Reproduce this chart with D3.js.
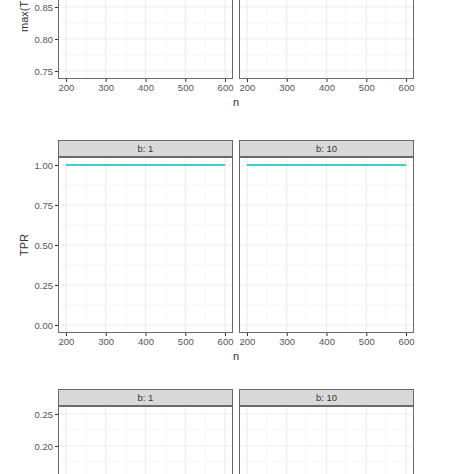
<!DOCTYPE html>
<html>
<head>
<meta charset="utf-8">
<script src="https://cdn.jsdelivr.net/npm/d3@7"></script>
<style>
  html, body { margin: 0; padding: 0; background: #fff; }
  svg { display: block; }
  text { font-family: "Liberation Sans", Arial, sans-serif; }
</style>
</head>
<body>
<svg id="chart" width="474" height="474"></svg>
<script>
// ---- data ----
const nValues = [200, 300, 400, 500, 600];
const bLevels = ["1", "10"];
const xTicks = [200, 300, 400, 500, 600];

// row 1: max(...) panel (lines lie above the visible area)
const maxB1 = [1.0, 1.0, 1.0, 1.0, 1.0];
const maxB10 = [1.0, 1.0, 1.0, 1.0, 1.0];
const maxTicks = [0.75, 0.80, 0.85, 0.90, 0.95, 1.00];

// row 2: TPR
const tprB1 = [1.0, 1.0, 1.0, 1.0, 1.0];
const tprB10 = [1.0, 1.0, 1.0, 1.0, 1.0];
const tprTicks = [0.00, 0.25, 0.50, 0.75, 1.00];

// row 3: FPR (lines lie below the visible area)
const fprB1 = [0.0, 0.0, 0.0, 0.0, 0.0];
const fprB10 = [0.0, 0.0, 0.0, 0.0, 0.0];
const fprTicks = [0.00, 0.05, 0.10, 0.15, 0.20, 0.25];

const rows = [
  { title: "max(TPR - FPR)", limits: [0.75, 1.0], ticks: maxTicks, series: [maxB1, maxB10], panelTop: -97 },
  { title: "TPR", limits: [0, 1], ticks: tprTicks, series: [tprB1, tprB10], panelTop: 157 },
  { title: "FPR", limits: [0, 0.25], ticks: fprTicks, series: [fprB1, fprB10], panelTop: 406 }
];

// ---- layout ----
const W = 474, H = 474;
const svg = d3.select("#chart");
const panelH = 176;
const stripH = 17;
const panelsX = [[58, 233], [239, 414]];
const lineColor = "#00BFC4";
const borderColor = "#6a6a6a";
const gridMajor = "#EBEBEB";
const tickColor = "#555555";
const fontStack = "Liberation Sans, Arial, sans-serif";
const inView = v => v > 4 && v < H - 4;

function expand(lim) {
  const d = (lim[1] - lim[0]) * 0.05;
  return [lim[0] - d, lim[1] + d];
}

rows.forEach(row => {
  const top = row.panelTop;
  const bottom = top + panelH;
  const y = d3.scaleLinear().domain(expand(row.limits)).range([bottom, top]);
  const yMinor = [];
  for (let i = 0; i < row.ticks.length - 1; i++) yMinor.push((row.ticks[i] + row.ticks[i + 1]) / 2);

  bLevels.forEach((b, pi) => {
    const [x0, x1] = panelsX[pi];
    const x = d3.scaleLinear().domain(expand([200, 600])).range([x0, x1]);
    const xMinor = [];
    for (let i = 0; i < xTicks.length - 1; i++) xMinor.push((xTicks[i] + xTicks[i + 1]) / 2);

    const g = svg.append("g");
    g.append("rect").attr("x", x0).attr("y", top).attr("width", x1 - x0).attr("height", panelH).attr("fill", "#fff");

    // grid
    g.selectAll(".ymin").data(yMinor).enter().append("line")
      .attr("x1", x0).attr("x2", x1).attr("y1", d => y(d)).attr("y2", d => y(d))
      .attr("stroke", "#F3F3F3").attr("stroke-width", 0.7);
    g.selectAll(".xmin").data(xMinor).enter().append("line")
      .attr("y1", top).attr("y2", bottom).attr("x1", d => x(d)).attr("x2", d => x(d))
      .attr("stroke", "#F3F3F3").attr("stroke-width", 0.7);
    g.selectAll(".ymaj").data(row.ticks).enter().append("line")
      .attr("x1", x0).attr("x2", x1).attr("y1", d => y(d)).attr("y2", d => y(d))
      .attr("stroke", gridMajor).attr("stroke-width", 1.1);
    g.selectAll(".xmaj").data(xTicks).enter().append("line")
      .attr("y1", top).attr("y2", bottom).attr("x1", d => x(d)).attr("x2", d => x(d))
      .attr("stroke", gridMajor).attr("stroke-width", 1.1);

    // data line
    const line = d3.line().x((d, i) => x(nValues[i])).y(d => y(d));
    g.append("path").datum(row.series[pi]).attr("d", line)
      .attr("fill", "none").attr("stroke", lineColor).attr("stroke-width", 1.4);

    // border
    g.append("rect").attr("x", x0 + 0.5).attr("y", top + 0.5).attr("width", x1 - x0 - 1).attr("height", panelH - 1)
      .attr("fill", "none").attr("stroke", borderColor).attr("stroke-width", 1);

    // strip
    g.append("rect").attr("x", x0 + 0.5).attr("y", top - stripH + 0.5).attr("width", x1 - x0 - 1).attr("height", stripH - 1)
      .attr("fill", "#D9D9D9").attr("stroke", borderColor).attr("stroke-width", 1);
    const stripY = top - stripH / 2 + 3.3;
    if (inView(stripY)) {
      g.append("text").attr("x", (x0 + x1) / 2).attr("y", stripY)
        .attr("text-anchor", "middle").attr("font-size", 9.5).attr("fill", "#333")
        .text("b: " + b);
    }

    // x axis
    if (inView(bottom + 10)) {
      const xa = svg.append("g").attr("transform", `translate(0,${bottom})`)
        .call(d3.axisBottom(x).tickValues(xTicks).tickSize(3).tickPadding(2).tickFormat(d3.format("d")));
      xa.select(".domain").remove();
      xa.selectAll("line").attr("stroke", "#333");
      xa.selectAll("text").attr("font-size", 9.5).attr("fill", tickColor).style("font-family", fontStack);
    }

    if (pi === 0) {
      const visTicks = row.ticks.filter(t => inView(y(t)));
      const ya = svg.append("g").attr("transform", `translate(${x0},0)`)
        .call(d3.axisLeft(y).tickValues(visTicks).tickSize(3).tickPadding(2).tickFormat(d3.format(".2f")));
      ya.select(".domain").remove();
      ya.selectAll("line").attr("stroke", "#333");
      ya.selectAll("text").attr("font-size", 9.5).attr("fill", tickColor).style("font-family", fontStack);
    }
  });

  // axis titles
  if (inView(bottom + 27)) {
    svg.append("text").attr("x", 236).attr("y", bottom + 27)
      .attr("text-anchor", "middle").attr("font-size", 11).attr("fill", "#333").text("n");
  }
  const mid = (top + bottom) / 2;
  if (mid > -60 && mid < H + 10) {
    svg.append("text").attr("transform", `translate(28,${mid}) rotate(-90)`)
      .attr("text-anchor", "middle").attr("font-size", 11).attr("fill", "#333").text(row.title);
  }
});
</script>
</body>
</html>
